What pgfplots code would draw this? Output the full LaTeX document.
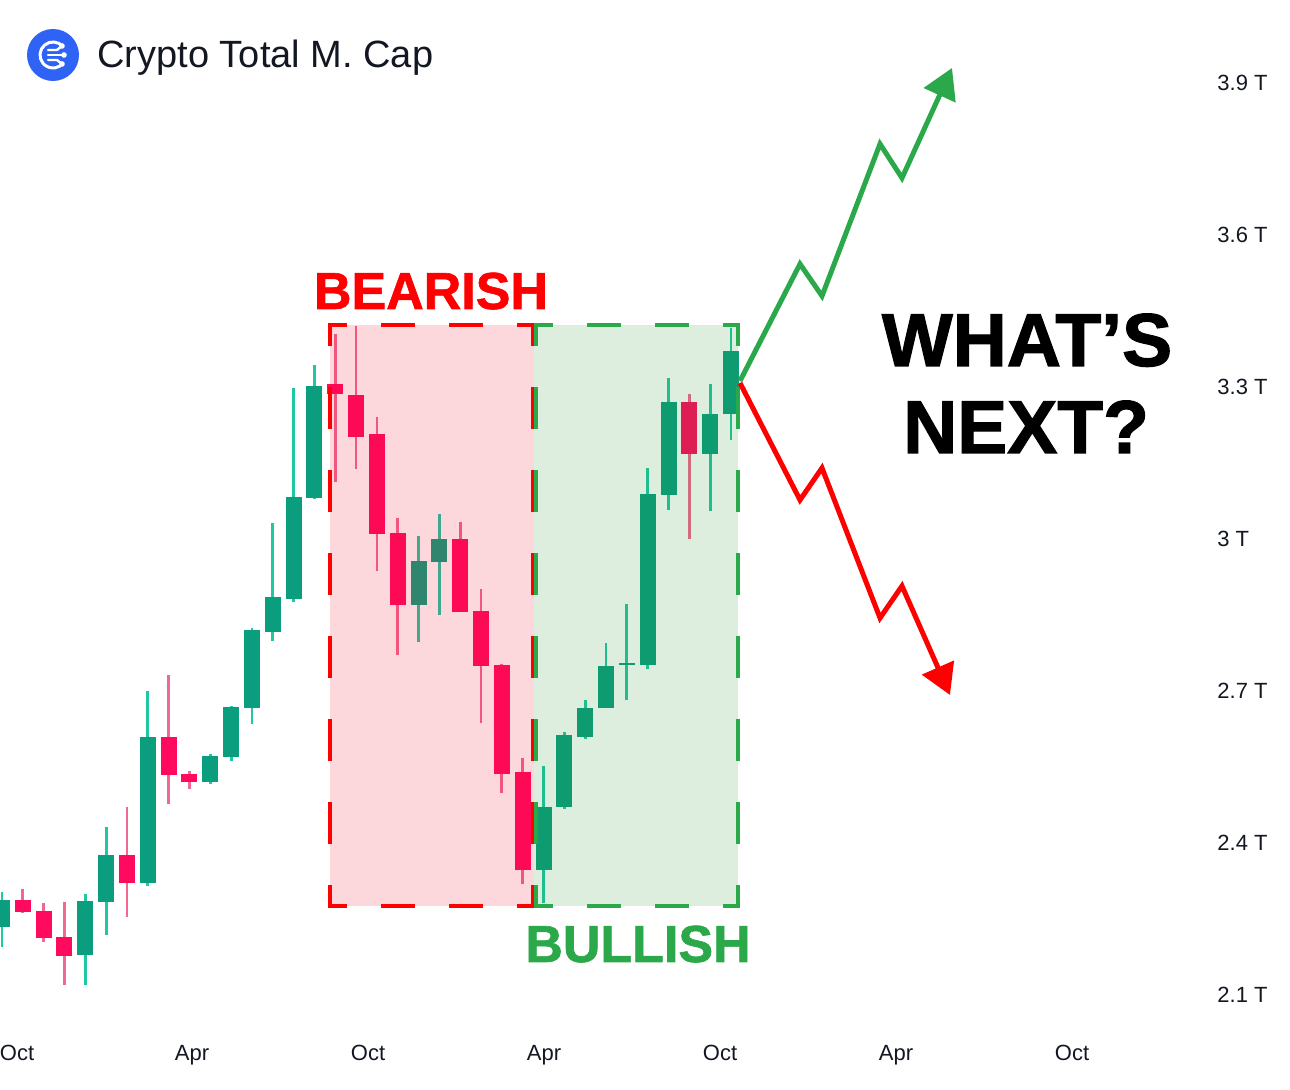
\documentclass[border=0pt]{standalone}
\usepackage{fontspec}
\setmainfont{Liberation Sans}
\newfontfamily\heavyfont{Liberation Sans}[BoldFeatures={FakeBold=1.6}]
\newfontfamily\semiheavyfont{Liberation Sans}[BoldFeatures={FakeBold=1.2}]
\usepackage{pgfplots}
\usepackage{pgfplotstable}
\pgfplotsset{compat=1.18}
\usetikzlibrary{arrows.meta}

\definecolor{upbody}{HTML}{0B9E7E}
\definecolor{upwick}{HTML}{1FC8A2}
\definecolor{dnbody}{HTML}{FF0A5E}
\definecolor{dnwick}{HTML}{F2668F}
\definecolor{bred}{HTML}{FF0000}
\definecolor{bgreen}{HTML}{2BA84A}
\definecolor{ovgreen}{HTML}{228B22}
\definecolor{ovred}{HTML}{EE0A28}
\definecolor{logoblue}{HTML}{2F63F5}
\definecolor{txt}{HTML}{131722}

% i open high low close  (values in trillions USD)
\pgfplotstableread{
i  o     h     l     c
0  2.234 2.303 2.195 2.288
4  2.179 2.299 2.120 2.286
5  2.284 2.432 2.218 2.376
7  2.321 2.700 2.315 2.609
10 2.520 2.576 2.516 2.572
11 2.570 2.670 2.562 2.668
12 2.666 2.824 2.635 2.820
13 2.816 3.032 2.799 2.886
14 2.882 3.298 2.876 3.083
15 3.081 3.343 3.079 3.302
20 2.870 3.005 2.797 2.956
21 2.954 3.049 2.850 2.999
26 2.346 2.552 2.281 2.472
27 2.472 2.620 2.467 2.613
28 2.609 2.682 2.606 2.667
29 2.666 2.795 2.666 2.749
30 2.752 2.871 2.682 2.756
31 2.752 3.140 2.743 3.089
32 3.087 3.317 3.057 3.270
34 3.168 3.305 3.055 3.247
35 3.247 3.417 3.195 3.371
}\upT

\pgfplotstableread{
i  o     h     l     c
1  2.288 2.309 2.262 2.264
2  2.266 2.282 2.205 2.213
3  2.214 2.284 2.120 2.177
6  2.376 2.471 2.254 2.321
8  2.609 2.732 2.477 2.534
9  2.536 2.542 2.507 2.520
16 3.305 3.405 3.113 3.286
17 3.285 3.421 3.139 3.202
18 3.207 3.241 2.937 3.009
19 3.011 3.041 2.771 2.870
22 2.999 3.034 2.855 2.855
23 2.858 2.901 2.636 2.750
24 2.751 2.753 2.498 2.536
25 2.541 2.567 2.319 2.346
33 3.270 3.287 3.000 3.168
}\dnT

\begin{document}
\begin{tikzpicture}
\path[use as bounding box] (0,0) rectangle (645pt,545pt);
\begin{axis}[
  at={(0pt,0pt)}, anchor=south west,
  width=645pt, height=545pt, scale only axis,
  xmin=-0.0960, xmax=61.838,
  ymin=1.9125, ymax=4.063816,
  axis line style={draw=none},
  major tick length=0pt,
  xtick={0.7202,9.122,17.572,26.022,34.472,42.922,51.372},
  xticklabels={Oct,Apr,Oct,Apr,Oct,Apr,Oct},
  ytick={2.1,2.4,2.7,3.0,3.3,3.6,3.9},
  yticklabels={2.1 T,2.4 T,2.7 T,3 T,3.3 T,3.6 T,3.9 T},
  yticklabel pos=right,
  xticklabel style={anchor=base, yshift=14.5pt, inner sep=0pt,
    font=\fontsize{11}{13}\selectfont, text=txt},
  yticklabel style={anchor=west, xshift=-36.5pt, inner sep=0pt,
    font=\fontsize{11}{13}\selectfont, text=txt},
  /pgf/number format/assume math mode=true,
  candle/.style={forget plot, mark=none, draw=none,
    error bars/.cd, y dir=plus, y explicit, error mark=none},
]
% wicks
\addplot[candle, error bar style={draw=upwick, line width=1.4pt}]
  table[x=i, y=l, y error expr=\thisrow{h}-\thisrow{l}] {\upT};
\addplot[candle, error bar style={draw=dnwick, line width=1.4pt}]
  table[x=i, y=l, y error expr=\thisrow{h}-\thisrow{l}] {\dnT};
% bodies
\addplot[candle, error bar style={draw=upbody, line width=8pt}]
  table[x=i, y=o, y error expr=\thisrow{c}-\thisrow{o}] {\upT};
\addplot[candle, error bar style={draw=dnbody, line width=8pt}]
  table[x=i, y=c, y error expr=\thisrow{o}-\thisrow{c}] {\dnT};
\end{axis}

\begin{scope}[x=0.5pt, y=-0.5pt, shift={(0pt,545pt)}]
% shaded zones
\fill[ovred, opacity=0.165] (330,325) rectangle (533.5,906);
\fill[ovgreen, opacity=0.15] (533.5,325) rectangle (738,906);
% dashed borders
\tikzset{hd/.style={line width=2pt, line cap=rect, dash pattern=on 15pt off 19pt, dash phase=7.5pt},
         vd/.style={line width=2pt, line cap=rect, dash pattern=on 18.75pt off 22.75pt, dash phase=9.375pt}}
\draw[bred, hd] (330,325) -- (533,325);
\draw[bred, hd] (330,906) -- (533,906);
\draw[bred, vd] (330,325) -- (330,906);
\draw[bred, vd] (533,325) -- (533,906);
\draw[bgreen, hd] (536,325) -- (738,325);
\draw[bgreen, hd] (536,906) -- (738,906);
\draw[bgreen, vd] (536,325) -- (536,906);
\draw[bgreen, vd] (738,325) -- (738,906);
% arrows
\draw[bgreen, line width=2.5pt, line join=miter, -{Triangle[length=15pt,width=17pt]}]
  (740,381) -- (800,264) -- (822,296) -- (880,144) -- (902,178) -- (952,68);
\draw[bred, line width=2.5pt, line join=miter, -{Triangle[length=15pt,width=17pt]}]
  (740,383) -- (800,500) -- (822,468) -- (880,618) -- (902,586) -- (950,695);
% labels
\node[anchor=base, font=\semiheavyfont\bfseries\fontsize{26}{26}\selectfont, text=bred] at (431,309) {BEARISH};
\node[anchor=base, font=\semiheavyfont\bfseries\fontsize{26}{26}\selectfont, text=bgreen] at (638,962) {BULLISH};
\node[anchor=base, font=\heavyfont\bfseries\fontsize{37.5}{38}\selectfont, text=black] at (1027,366) {WHAT’S};
\node[anchor=base, font=\heavyfont\bfseries\fontsize{37.5}{38}\selectfont, text=black] at (1026,453) {NEXT?};
% title and logo
\fill[logoblue] (53,55) circle[radius=13pt];
\draw[white, line width=1.5pt, line cap=round] (53,55) ++(40:6.5pt) arc[start angle=40, end angle=320, radius=6.5pt];
\draw[white, line width=1.2pt, line cap=round] (48,55) -- (64,55);
\draw[white, line width=1.2pt, line cap=round] (48,50) -- (57,50) -- (62,46);
\draw[white, line width=1.2pt, line cap=round] (48,60) -- (57,60) -- (62,64);
\fill[white] (64,55) circle[radius=1.4pt] (62,46) circle[radius=1.4pt] (62,64) circle[radius=1.4pt];
\node[anchor=base west, inner sep=0pt, font=\fontsize{19}{22}\selectfont, text=txt] at (97,68) {Crypto Total M. Cap};
\end{scope}
\end{tikzpicture}
\end{document}
